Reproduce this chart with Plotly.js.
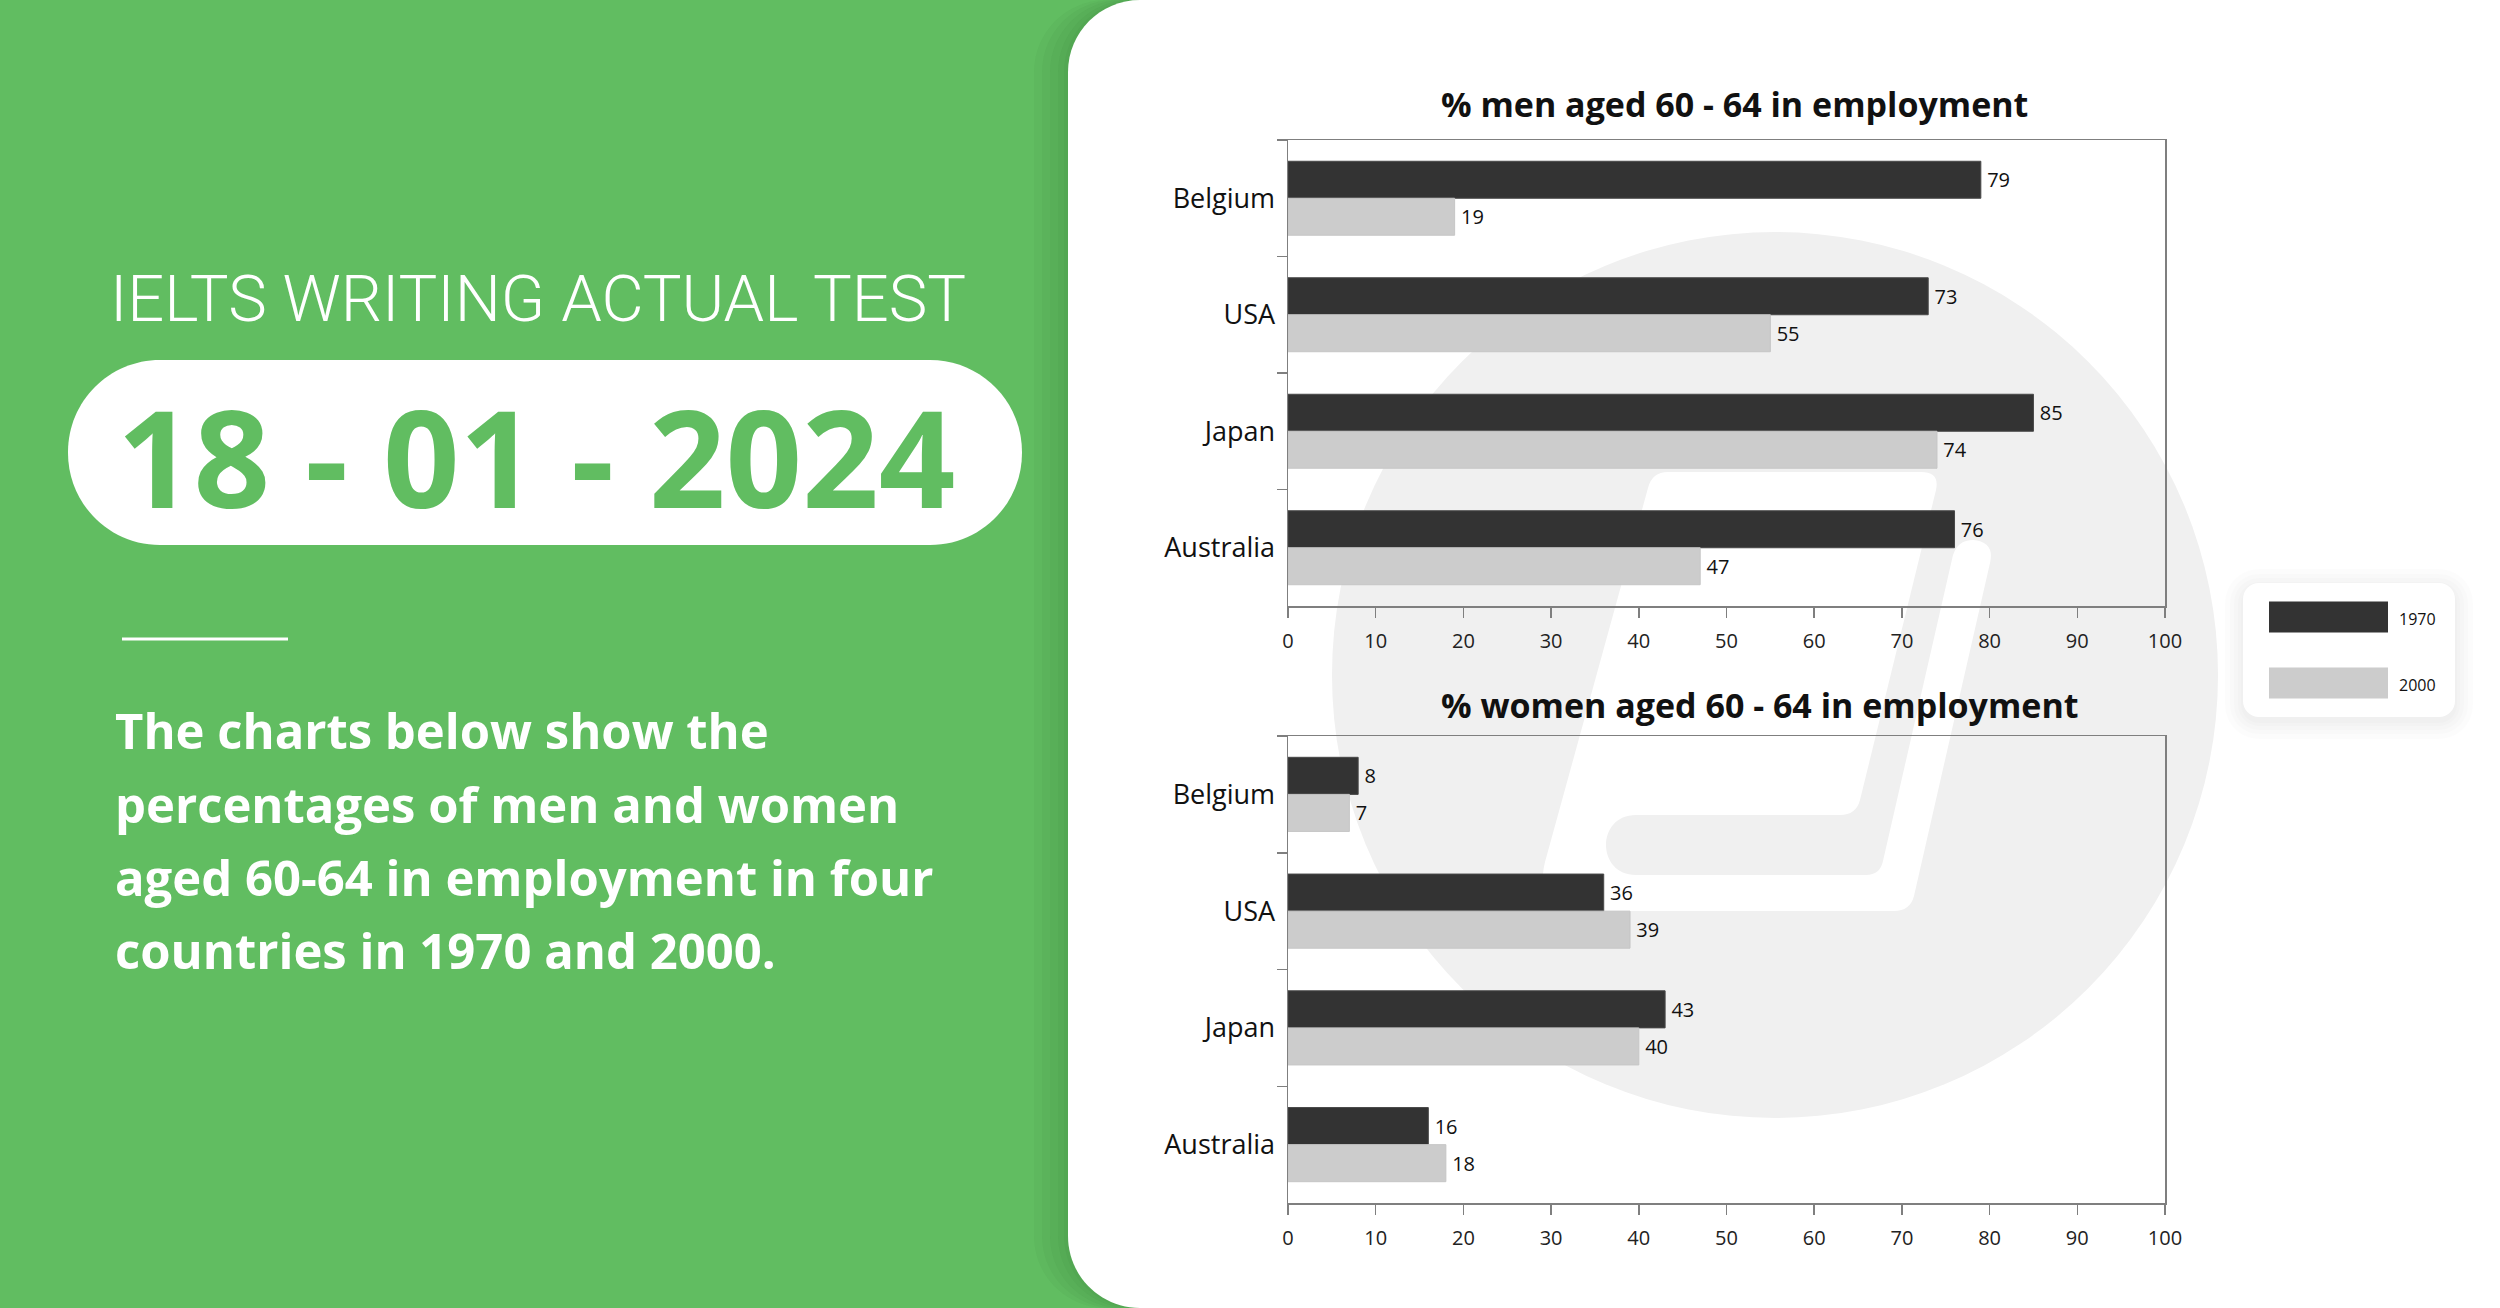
<!DOCTYPE html>
<html>
<head>
<meta charset="utf-8">
<script src="https://cdn.plot.ly/plotly-3.0.1.min.js"></script>
<style>
html,body{margin:0;padding:0;background:#61BD61;overflow:hidden;}
#chart{width:2500px;height:1308px;}
</style>
</head>
<body>
<div id="chart"></div>
<script>
// ---------- data ----------
const countries = ['Belgium', 'USA', 'Japan', 'Australia'];
const men1970 = [79, 73, 85, 76];
const men2000 = [19, 55, 74, 47];
const women1970 = [8, 36, 43, 16];
const women2000 = [7, 39, 40, 18];
const seriesNames = ['1970', '2000'];
const xTickVals = [0, 10, 20, 30, 40, 50, 60, 70, 80, 90, 100];
const chartTitles = ['% men aged 60 - 64 in employment', '% women aged 60 - 64 in employment'];
const headline = 'IELTS WRITING ACTUAL TEST';
const dateText = '18 - 01 - 2024';
const descLines = ['The charts below show the', 'percentages of men and women', 'aged 60-64 in employment in four', 'countries in 1970 and 2000.'];

// ---------- styling ----------
const W = 2500, H = 1308;
const GREEN = '#61BD61';
const seriesColors = ['#333333', '#CCCCCC'];
const seriesLines = ['#484848', '#C6C6C6'];
const AXIS = '#7f7f7f';
const FONT = 'Open Sans';

const fx = x => x / W;
const fy = y => 1 - y / H;
const pt = (x, y) => fx(x).toFixed(6) + ',' + fy(y).toFixed(6);
const M = (x, y) => 'M' + pt(x, y);
const L = (x, y) => ' L' + pt(x, y);
const Q = (a, b, x, y) => ' Q' + pt(a, b) + ' ' + pt(x, y);
const C = (a, b, c, d, x, y) => ' C' + pt(a, b) + ' ' + pt(c, d) + ' ' + pt(x, y);
const K = 0.5523;

function rrect(x0, y0, x1, y1, r) {
  const k = r * (1 - K);
  return M(x0 + r, y0) + L(x1 - r, y0) + C(x1 - k, y0, x1, y0 + k, x1, y0 + r) +
    L(x1, y1 - r) + C(x1, y1 - k, x1 - k, y1, x1 - r, y1) +
    L(x0 + r, y1) + C(x0 + k, y1, x0, y1 - k, x0, y1 - r) +
    L(x0, y0 + r) + C(x0, y0 + k, x0 + k, y0, x0 + r, y0) + ' Z';
}
function panelPath(x0, r) {
  const k = r * (1 - K);
  return M(x0 + r, 0) + L(W + 5, 0) + L(W + 5, H) + L(x0 + r, H) +
    C(x0 + k, H, x0, H - k, x0, H - r) + L(x0, r) + C(x0, k, x0 + k, 0, x0 + r, 0) + ' Z';
}

const shapes = [];
// panel shadow
[34, 26, 18, 10, 4].forEach(o => shapes.push({type: 'path', xref: 'paper', yref: 'paper', layer: 'below',
  path: panelPath(1068 - o, 72), fillcolor: 'rgba(20,70,20,0.04)', line: {width: 0}}));
// white panel
shapes.push({type: 'path', xref: 'paper', yref: 'paper', layer: 'below', path: panelPath(1068, 72),
  fillcolor: '#ffffff', line: {width: 0}});
// watermark circle
const cx = 1775, cy = 675, cr = 443;
shapes.push({type: 'circle', xref: 'paper', yref: 'paper', layer: 'below',
  x0: fx(cx - cr), x1: fx(cx + cr), y0: fy(cy + cr), y1: fy(cy - cr), fillcolor: '#F0F0F0', line: {width: 0}});
// watermark logo (white)
const logo = M(1648, 488) + Q(1652, 472, 1668, 472) + L(1921, 472) + Q(1940, 472, 1936, 490) +
  L(1860, 800) + Q(1856, 815, 1840, 815) + L(1636, 815) + C(1596, 815, 1596, 875, 1636, 875) +
  L(1866, 875) + Q(1880, 875, 1883, 861) + L(1953, 555) + Q(1958, 540, 1973, 540) + Q(1995, 542, 1990, 563) +
  L(1914, 896) + Q(1910, 911, 1894, 911) + L(1580, 911) + C(1548, 911, 1538, 890, 1545, 862) + ' Z';
shapes.push({type: 'path', xref: 'paper', yref: 'paper', layer: 'below', path: logo, fillcolor: '#ffffff', line: {width: 0}});
// pill
shapes.push({type: 'path', xref: 'paper', yref: 'paper', layer: 'below', path: rrect(68, 360, 1022, 545, 92),
  fillcolor: '#ffffff', line: {width: 0}});
// white rule
shapes.push({type: 'line', xref: 'paper', yref: 'paper', layer: 'below',
  x0: fx(122), x1: fx(288), y0: fy(639), y1: fy(639), line: {color: '#ffffff', width: 3}});
// legend box with soft shadow
[18, 13, 9, 5, 2].forEach(o => shapes.push({type: 'path', xref: 'paper', yref: 'paper', layer: 'below',
  path: rrect(2243 - o, 583 - o + 4, 2455 + o, 717 + o + 4, 16 + o), fillcolor: 'rgba(0,0,0,0.012)', line: {width: 0}}));
shapes.push({type: 'path', xref: 'paper', yref: 'paper', layer: 'below', path: rrect(2243, 583, 2455, 717, 16),
  fillcolor: '#ffffff', line: {width: 0}});
const legendY = [617, 683];
seriesNames.forEach((n, i) => shapes.push({type: 'rect', xref: 'paper', yref: 'paper', layer: 'above',
  x0: fx(2269), x1: fx(2388), y0: fy(legendY[i] + 15.5), y1: fy(legendY[i] - 15.5),
  fillcolor: seriesColors[i], line: {width: 0}}));

// ---------- annotations ----------
const annotations = [];
annotations.push({xref: 'paper', yref: 'paper', x: fx(538), y: fy(299), xanchor: 'center', yanchor: 'middle',
  text: headline, showarrow: false, font: {family: 'Roboto', size: 65, weight: 300, color: '#ffffff'}});
annotations.push({xref: 'paper', yref: 'paper', x: fx(536), y: fy(456), xanchor: 'center', yanchor: 'middle',
  text: dateText, showarrow: false, font: {family: FONT, size: 134, weight: 700, color: GREEN}});
const descY = [730, 804, 877, 950];
descLines.forEach((t, i) => annotations.push({xref: 'paper', yref: 'paper', x: fx(113), y: fy(descY[i]),
  xanchor: 'left', yanchor: 'middle', text: t, showarrow: false,
  font: {family: FONT, size: 49, weight: 700, color: '#ffffff'}}));
const titleY = [104, 705];
chartTitles.forEach((t, i) => annotations.push({xref: 'paper', yref: 'paper', x: fx(1439), y: fy(titleY[i]),
  xanchor: 'left', yanchor: 'middle', text: t, showarrow: false,
  font: {family: FONT, size: 34, weight: 700, color: '#111111'}}));
seriesNames.forEach((n, i) => annotations.push({xref: 'paper', yref: 'paper', x: fx(2397), y: fy(legendY[i] + 2),
  xanchor: 'left', yanchor: 'middle', text: n, showarrow: false,
  font: {family: FONT, size: 16, color: '#111111'}}));

// ---------- traces ----------
function barTrace(vals, si, xa, ya) {
  return {
    type: 'bar', orientation: 'h', x: vals, y: countries, name: seriesNames[si],
    xaxis: xa, yaxis: ya, showlegend: false,
    marker: {color: seriesColors[si], line: {color: seriesLines[si], width: 1}},
    text: vals.map(v => '\u2009' + v), textposition: 'outside', cliponaxis: false, constraintext: 'none',
    textfont: {family: FONT, size: 20, color: '#111111'}, hoverinfo: 'skip'
  };
}
const data = [
  barTrace(men1970, 0, 'x', 'y'), barTrace(men2000, 1, 'x', 'y'),
  barTrace(women1970, 0, 'x2', 'y2'), barTrace(women2000, 1, 'x2', 'y2')
];

function xAxis(anchor) {
  return {domain: [fx(1288), fx(2165)], range: [0, 100], tickmode: 'array', tickvals: xTickVals,
    ticks: 'outside', ticklen: 10, tickwidth: 1.5, tickcolor: AXIS, showline: true, linecolor: AXIS, linewidth: 1.5,
    mirror: true, showgrid: false, zeroline: false, anchor: anchor, fixedrange: true, ticklabelstandoff: 6,
    tickfont: {family: FONT, size: 20, color: '#222222'}};
}
function yAxis(anchor, top, bottom) {
  return {domain: [fy(bottom), fy(top)], type: 'category', autorange: 'reversed', tickson: 'boundaries',
    ticks: 'outside', ticklen: 10, tickwidth: 1.5, tickcolor: AXIS, showline: true, linecolor: AXIS, linewidth: 1.5,
    mirror: true, showgrid: false, zeroline: false, anchor: anchor, fixedrange: true,
    ticklabelstandoff: 6,
    tickfont: {family: FONT, size: 27, color: '#111111'}};
}

const layout = {
  width: W, height: H, margin: {l: 0, r: 0, t: 0, b: 0, pad: 0},
  paper_bgcolor: GREEN, plot_bgcolor: 'rgba(0,0,0,0)',
  barmode: 'group', bargap: 0.365, bargroupgap: 0,
  xaxis: xAxis('y'), yaxis: yAxis('x', 140, 606),
  xaxis2: xAxis('y2'), yaxis2: yAxis('x2', 736, 1203),
  shapes: shapes, annotations: annotations, showlegend: false,
  font: {family: FONT, color: '#111111'}
};

Plotly.newPlot('chart', data, layout, {staticPlot: true, displayModeBar: false});
</script>
</body>
</html>
